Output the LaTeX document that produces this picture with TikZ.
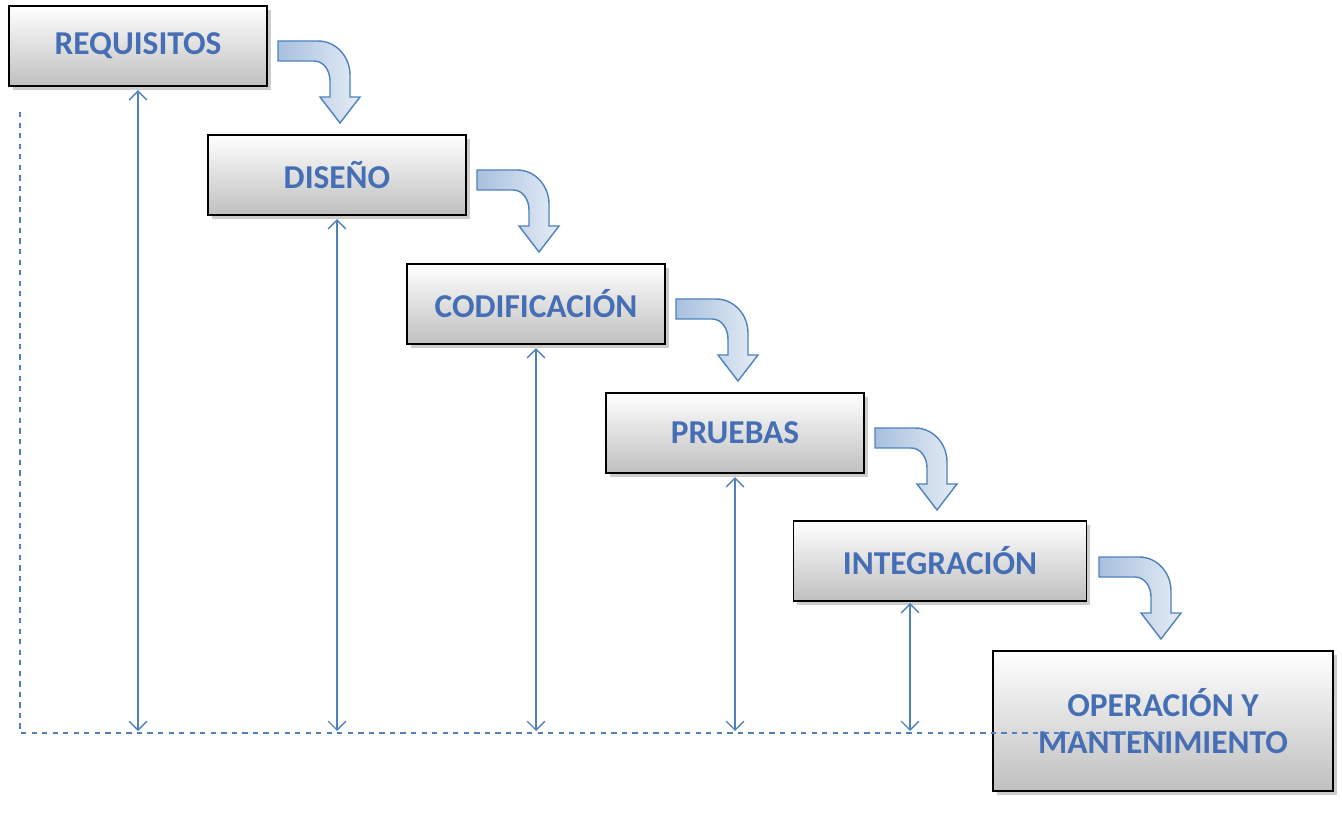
\documentclass[tikz,border=0pt]{standalone}
\usepackage{fontspec}
\setmainfont{Carlito}
\usetikzlibrary{arrows.meta,shadows}
\definecolor{ttl}{RGB}{70,110,180}
\definecolor{ln}{RGB}{79,129,189}
\begin{document}
\begin{tikzpicture}[x=0.02cm,y=-0.02cm,
 stage/.style={draw=black,thick,inner sep=0pt,top color=white,bottom color=black!25,
   drop shadow={shadow xshift=2pt,shadow yshift=-2pt,opacity=0.4},
   font=\fontsize{19}{21}\selectfont\bfseries,text=ttl,align=center},
 vert/.style={draw=ln,thick,{Straight Barb[length=5pt]}-{Straight Barb[length=5pt]}},
 bend/.pic={\path[draw=ln,thick,left color=ln!50,right color=ln!15]
   (0,0) -- (40,0) to[out=0,in=90] (72,34) -- (72,56) -- (82,56) -- (62,82) -- (42,56) -- (52,56) -- (52,40)
   to[out=90,in=0] (36,20) -- (0,20) -- cycle;}]
\useasboundingbox (0,0) rectangle (1342,820);
\node[stage,minimum width=258*0.02cm,minimum height=80*0.02cm] (r) at (138,46) {REQUISITOS};
\node[stage,minimum width=258*0.02cm,minimum height=80*0.02cm] (d) at (337,175) {DISEÑO};
\node[stage,minimum width=258*0.02cm,minimum height=80*0.02cm] (c) at (536,304) {CODIFICACIÓN};
\node[stage,minimum width=258*0.02cm,minimum height=80*0.02cm] (p) at (735,433) {PRUEBAS};
\node[stage,minimum width=293*0.02cm,minimum height=80*0.02cm] (i) at (940,561) {INTEGRACIÓN};
\node[stage,minimum width=340*0.02cm,minimum height=140*0.02cm] (o) at (1163,721) {OPERACIÓN Y\\MANTENIMIENTO};
\pic at (278,41) {bend};
\pic at (477,170) {bend};
\pic at (676,299) {bend};
\pic at (875,428) {bend};
\pic at (1099,557) {bend};
\coordinate (b1) at (138,731);
\coordinate (b2) at (337,731);
\coordinate (b3) at (536,731);
\coordinate (b4) at (735,731);
\coordinate (b5) at (910,731);
\draw[vert] ([yshift=-2pt]r.south) -- (b1);
\draw[vert] ([yshift=-2pt]d.south) -- (b2);
\draw[vert] ([yshift=-2pt]c.south) -- (b3);
\draw[vert] ([yshift=-2pt]p.south) -- (b4);
\draw[vert] (910,603) -- (b5);
\coordinate (t) at (20,112);
\coordinate (cr) at (20,733);
\coordinate (e) at (1165,733);
\draw[ln,thick,dashed] (t) -- (cr) -- (e);
\end{tikzpicture}
\end{document}
